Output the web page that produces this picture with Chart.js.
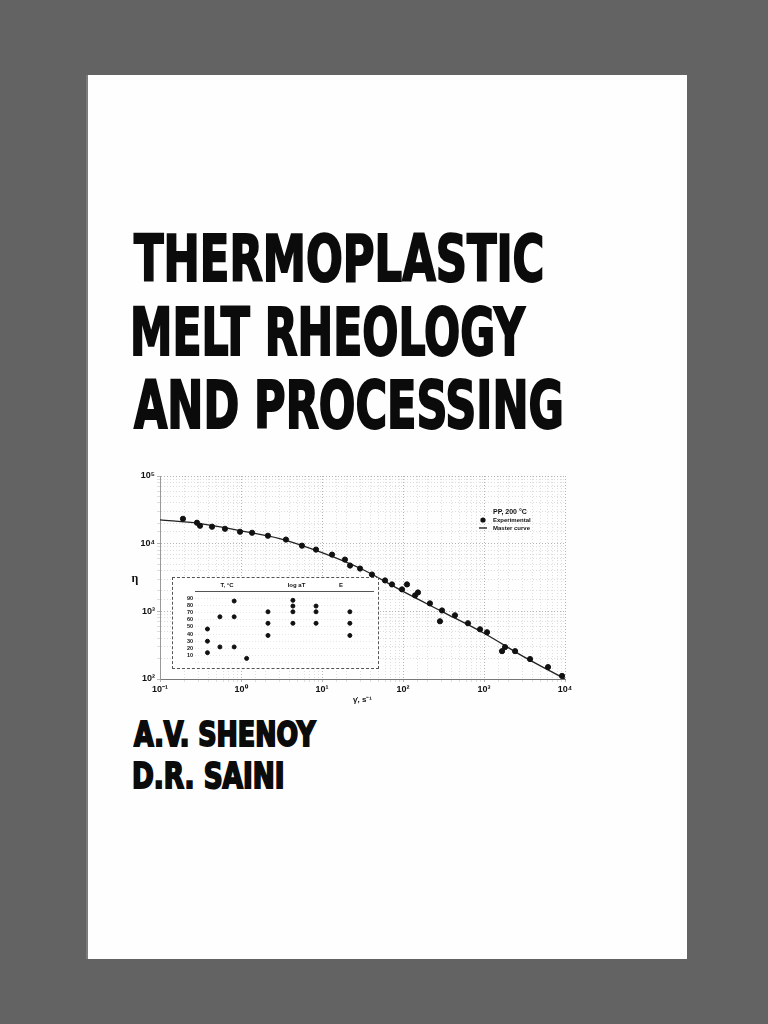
<!DOCTYPE html>
<html>
<head>
<meta charset="utf-8">
<script src="https://cdn.jsdelivr.net/npm/chart.js@4.4.0/dist/chart.umd.min.js"></script>
<style>
  html, body { margin: 0; padding: 0; }
  body { width: 768px; height: 1024px; background: #636363; position: relative; overflow: hidden; }
  #page { position: absolute; left: 88px; top: 75px; width: 599px; height: 884px; background: #fefefe; box-shadow: -2px 0 0 #7c7c7c; }
  .big { position: absolute; font-family: "Liberation Sans Narrow", "DejaVu Sans Condensed", "Liberation Sans", sans-serif;
         font-weight: bold; color: #0b0b0b; white-space: nowrap; transform-origin: 0 0; -webkit-text-stroke: 2px #0b0b0b; }
  #main { position: absolute; left: 120px; top: 460px; width: 460px; height: 245px; }
  #inset { position: absolute; left: 172px; top: 577px; width: 207px; height: 92px; box-sizing: border-box;
           background: #fff; border: 1px dashed #555; }
</style>
</head>
<body>
<div id="page"></div>

<div class="big" id="t1">THERMOPLASTIC</div>
<div class="big" id="t2">MELT RHEOLOGY</div>
<div class="big" id="t3">AND PROCESSING</div>
<div class="big" id="a1">A.V. SHENOY</div>
<div class="big" id="a2">D.R. SAINI</div>

<div id="main"><canvas id="chart"></canvas></div>
<div id="inset"><canvas id="chart2"></canvas></div>

<script>
// measured points (shear rate 1/s, viscosity Pa.s)
const shearRate = [0.192, 0.286, 0.312, 0.439, 0.634, 0.973, 1.37, 2.15, 3.59, 5.66, 8.43, 13.3, 19.2, 22.2, 29.5, 41.4, 60.0, 73.1, 97.2, 112, 141, 153, 215, 286, 303, 438, 634, 893, 1090, 1670, 1820, 2420, 3700, 6170, 9190];
const viscosity = [23300, 20400, 18400, 17800, 16600, 15000, 14500, 13100, 11500, 9350, 8170, 6890, 5820, 4750, 4290, 3500, 2860, 2500, 2110, 2500, 1720, 1900, 1310, 713, 1030, 874, 667, 543, 491, 258, 296, 258, 197, 150, 111];

// master curve
const curveRate = [0.1, 0.3, 1, 3, 10, 30, 100, 300, 1000, 3000, 10000];
const curveVisc = [22500, 20000, 15500, 11900, 7380, 4290, 1970, 1000, 475, 218, 100];

// tick labels
const xDecades = [0.1, 1, 10, 100, 1000, 10000];
const xTickLabels = ['10⁻¹', '10⁰', '10¹', '10²', '10³', '10⁴'];
const yDecades = [100, 1000, 10000, 100000];
const yTickLabels = ['10²', '10³', '10⁴', '10⁵'];

// inset
const insetX = [22, 14, 22, 7, 7, 14, 22, 7, 29, 41, 41, 41, 55, 55, 55, 55, 68, 68, 68, 87, 87, 87];
const insetY = [86, 64, 64, 47, 30, 22, 22, 14, 6, 71, 55, 38, 87, 79, 71, 55, 79, 71, 55, 71, 55, 38];
const insetCols = [18, 57, 82];
const insetHeads = ['T, °C', 'log aT', 'E'];

// ---- cover text ----
function placeText(id, left, capTop, capBottom, width) {
  const el = document.getElementById(id);
  const fam = getComputedStyle(el).fontFamily;
  const ctx = document.createElement('canvas').getContext('2d');
  ctx.font = 'bold 100px ' + fam;
  const m = ctx.measureText(el.textContent);
  const cap = ctx.measureText('H').actualBoundingBoxAscent / 100;
  const fs = (capBottom - capTop - 2) / cap;
  const k = fs / 100;
  const fA = m.fontBoundingBoxAscent * k, fD = m.fontBoundingBoxDescent * k;
  el.style.fontSize = fs + 'px';
  el.style.lineHeight = fs + 'px';
  el.style.top = (capTop + 1 - ((fs - fA - fD) / 2 + fA - cap * fs)) + 'px';
  const ink = (m.actualBoundingBoxLeft + m.actualBoundingBoxRight) * k;
  const s = (width - 2) / ink;
  el.style.left = (left + 1 + s * m.actualBoundingBoxLeft * k) + 'px';
  el.style.transform = 'scaleX(' + s + ')';
}
placeText('t1', 133, 233, 282, 410);
placeText('t2', 133, 307, 357, 394);
placeText('t3', 133, 380, 430, 429);
placeText('a1', 133, 720, 747, 184);
placeText('a2', 133, 761, 789, 150);

// ---- main chart ----
function decadeIndex(v, list) {
  return list.findIndex(d => Math.abs(Math.log10(v) - Math.log10(d)) < 1e-6);
}
const isDecade = v => Math.abs(Math.log10(v) - Math.round(Math.log10(v))) < 1e-6;

const yTitle = {
  id: 'yTitle',
  afterDraw(c) {
    const ctx = c.ctx, a = c.chartArea;
    ctx.save();
    ctx.font = 'bold 12px "Liberation Serif", serif';
    ctx.fillStyle = '#111';
    ctx.textAlign = 'center';
    ctx.fillText('η', c.scales.y.left + 15, (a.top + a.bottom) / 2 + 4);
    ctx.restore();
  }
};

// small legend in the upper right of the plot
const cornerLegend = {
  id: 'cornerLegend',
  afterDraw(c) {
    const ctx = c.ctx, a = c.chartArea;
    const x0 = a.right - 84, y0 = a.top + 36;
    ctx.save();
    ctx.fillStyle = '#111';
    ctx.strokeStyle = '#111';
    ctx.textBaseline = 'middle';
    ctx.font = 'bold 7px "Liberation Sans", sans-serif';
    ctx.fillText('PP, 200 °C', x0 + 12, y0);
    ctx.font = 'bold 6px "Liberation Sans", sans-serif';
    c.data.datasets.forEach((ds, i) => {
      const y = y0 + 8 + i * 8;
      if (ds.type === 'line') {
        ctx.lineWidth = ds.borderWidth;
        ctx.beginPath(); ctx.moveTo(x0 - 2, y); ctx.lineTo(x0 + 6, y); ctx.stroke();
      } else {
        ctx.beginPath(); ctx.arc(x0 + 2, y, ds.pointRadius, 0, Math.PI * 2); ctx.fill();
      }
      ctx.fillText(ds.label, x0 + 12, y);
    });
    ctx.restore();
  }
};

new Chart(document.getElementById('chart'), {
  type: 'scatter',
  data: {
    datasets: [{
      label: 'Experimental',
      data: shearRate.map((x, i) => ({ x: x, y: viscosity[i] })),
      backgroundColor: '#111',
      borderColor: '#111',
      pointRadius: 2.6,
      pointStyle: 'circle'
    }, {
      label: 'Master curve',
      type: 'line',
      data: curveRate.map((x, i) => ({ x: x, y: curveVisc[i] })),
      borderColor: '#222',
      borderWidth: 1.3,
      pointRadius: 0,
      cubicInterpolationMode: 'monotone',
      fill: false
    }]
  },
  options: {
    responsive: true,
    maintainAspectRatio: false,
    animation: false,
    layout: { padding: { top: 16, right: 15, left: 0, bottom: 0 } },
    plugins: {
      tooltip: { enabled: false },
      legend: { display: false }
    },
    scales: {
      x: {
        type: 'logarithmic',
        min: 0.1,
        max: 10000,
        afterFit: s => { s.height = 26; },
        title: { display: true, text: 'γ̇, s⁻¹', color: '#111', font: { size: 8, weight: 'bold' }, padding: 0 },
        ticks: {
          autoSkip: false, maxRotation: 0, padding: 2, color: '#111',
          font: { size: 9, weight: 'bold' },
          callback: v => { const i = decadeIndex(v, xDecades); return i >= 0 ? xTickLabels[i] : ''; }
        },
        grid: { color: c => isDecade(c.tick.value) ? '#b4b4b4' : '#dedede', tickLength: 3 },
        border: { color: '#777', dash: [1, 2] }
      },
      y: {
        type: 'logarithmic',
        min: 100,
        max: 100000,
        afterFit: s => { s.width = 40; },
        ticks: {
          autoSkip: false, padding: 2, color: '#111',
          font: { size: 9, weight: 'bold' },
          callback: v => { const i = decadeIndex(v, yDecades); return i >= 0 ? yTickLabels[i] : ''; }
        },
        grid: { color: c => isDecade(c.tick.value) ? '#b4b4b4' : '#dedede', tickLength: 3 },
        border: { color: '#999', dash: [1, 2] }
      }
    }
  },
  plugins: [yTitle, cornerLegend]
});

// ---- inset ----
new Chart(document.getElementById('chart2'), {
  type: 'scatter',
  data: {
    datasets: [{
      data: insetX.map((x, i) => ({ x: x, y: insetY[i] })),
      backgroundColor: '#111',
      borderColor: '#111',
      pointRadius: 2
    }]
  },
  options: {
    responsive: true,
    maintainAspectRatio: false,
    animation: false,
    layout: { padding: 0 },
    plugins: { legend: { display: false }, tooltip: { enabled: false } },
    scales: {
      x: {
        type: 'linear',
        position: 'top',
        min: 0,
        max: 100,
        afterFit: s => { s.height = 13; },
        afterBuildTicks: s => { s.ticks = insetCols.map(v => ({ value: v })); },
        ticks: { color: '#111', padding: 2, maxRotation: 0, font: { size: 6, weight: 'bold' }, callback: (v, i) => insetHeads[i] },
        grid: { display: false, drawTicks: false },
        border: { color: '#555', width: 1, dash: [3, 2] }
      },
      y: {
        type: 'linear',
        min: 0,
        max: 100,
        afterFit: s => { s.width = 22; },
        ticks: { stepSize: 10, autoSkip: false, color: '#111', padding: 2, font: { size: 5.5, weight: 'bold' },
                 callback: v => (v === 0 || v === 100) ? '' : String(v) },
        grid: { color: '#e6e6e6', drawTicks: false },
        border: { display: false, dash: [1, 2] }
      }
    }
  }
});
</script>
</body>
</html>
